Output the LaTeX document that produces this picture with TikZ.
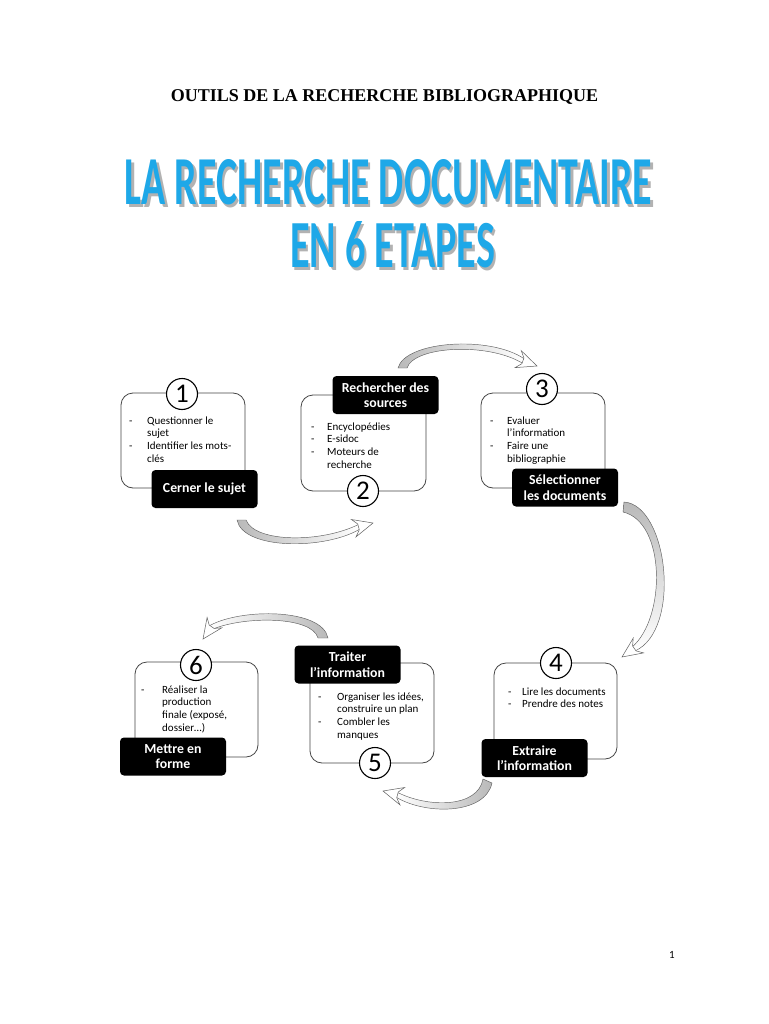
\documentclass[tikz,border=0pt]{standalone}
\usepackage{fontspec}
\setmainfont{Liberation Serif}
\newfontfamily\calib{Carlito}
\usepackage{graphicx}
\definecolor{titleblue}{RGB}{30,168,232}
\definecolor{boxline}{RGB}{70,70,70}
\definecolor{arrline}{RGB}{95,95,95}
\tikzset{
  stepframe/.style={draw=boxline, line width=0.8pt, rounded corners=12pt, inner sep=0pt},
  steplabel/.style={fill=black, rounded corners=4pt, text=white,
    font=\calib\bfseries\fontsize{13.8}{15.5}\selectfont, align=center,
    minimum width=106pt, minimum height=38pt, inner sep=0pt},
  stepnum/.style={circle, draw=black, line width=1.1pt, fill=white,
    minimum size=31pt, inner sep=0pt, font=\calib\fontsize{27}{27}\selectfont},
  steplist/.style={anchor=base west, inner sep=0pt, font=\calib\fontsize{11}{12.7}\selectfont},
  arrowbody/.style={draw=arrline, line width=0.45pt},
  arrowhead/.style={draw=arrline, fill=white, line width=0.5pt, line join=miter},
  openhead/.pic={\draw[arrowhead] (0,0) -- (-20,-9) -- (-15,-3) -- (-15,3) -- (-20,9) -- cycle;},
  titletext/.style={inner sep=0pt, font=\calib\bfseries},
}
\newcommand{\steplines}[2]{\begin{tabular}[t]{@{}p{#1}@{}l@{}}#2\end{tabular}}
\begin{document}
\begin{tikzpicture}[x=1pt,y=-1pt]
\useasboundingbox (0,0) rectangle (768,1024);
\fill[white] (0,0) rectangle (768,1024);

% header
\node[inner sep=0pt, font=\bfseries\fontsize{18}{20}\selectfont] (header) at (384.5,97)
  {OUTILS DE LA RECHERCHE BIBLIOGRAPHIQUE};

% title with shadow
\node[titletext, text=gray!60] (t1s) at (391,185.5) {\resizebox{527pt}{45pt}{LA RECHERCHE DOCUMENTAIRE}};
\node[titletext, text=titleblue] (t1) at (388.5,182.5) {\resizebox{527pt}{45pt}{LA RECHERCHE DOCUMENTAIRE}};
\node[titletext, text=gray!60] (t2s) at (395,248) {\resizebox{205pt}{46pt}{EN 6 ETAPES}};
\node[titletext, text=titleblue] (t2) at (392.5,245) {\resizebox{205pt}{46pt}{EN 6 ETAPES}};

% frames
\node[stepframe, minimum width=124pt, minimum height=95pt] (box1) at (183,440.5) {};
\node[stepframe, minimum width=125pt, minimum height=96pt] (box2) at (363.5,443) {};
\node[stepframe, minimum width=124pt, minimum height=95pt] (box3) at (543,440.5) {};
\node[stepframe, minimum width=123pt, minimum height=96pt] (box4) at (555.5,711) {};
\node[stepframe, minimum width=124pt, minimum height=100pt] (box5) at (372,713) {};
\node[stepframe, minimum width=123pt, minimum height=95pt] (box6) at (196.5,709.5) {};

% lists
\node[steplist] (l1) at (129,424) {\steplines{18pt}{-&Questionner le\\&sujet\\-&Identifier les mots-\\&clés}};
\node[steplist] (l2) at (311,430) {\steplines{16pt}{-&Encyclopédies\\-&E-sidoc\\-&Moteurs de\\&recherche}};
\node[steplist] (l3) at (490,424) {\steplines{17pt}{-&Evaluer\\&l’information\\-&Faire une\\&bibliographie}};
\node[steplist] (l4) at (508,695) {\steplines{14pt}{-&Lire les documents\\-&Prendre des notes}};
\node[steplist] (l5) at (318,700) {\steplines{19pt}{-&Organiser les idées,\\&construire un plan\\-&Combler les\\&manques}};
\node[steplist] (l6) at (141,693) {\steplines{21pt}{-&Réaliser la\\&production\\&finale (exposé,\\&dossier…)}};

% black labels
\node[steplabel] (lab1) at (204.5,489) {Cerner le sujet};
\node[steplabel] (lab2) at (385.5,395) {Rechercher des\\sources};
\node[steplabel] (lab3) at (565,487.5) {Sélectionner\\les documents};
\node[steplabel] (lab4) at (534.5,758) {Extraire\\l’information};
\node[steplabel] (lab5) at (347.5,664.5) {Traiter\\l’information};
\node[steplabel] (lab6) at (173,756.5) {Mettre en\\forme};

% numbers
\node[stepnum] (n1) at (182,394) {1};
\node[stepnum] (n2) at (363,491) {2};
\node[stepnum] (n3) at (542,389) {3};
\node[stepnum] (n4) at (556,663) {4};
\node[stepnum] (n5) at (375,763) {5};
\node[stepnum] (n6) at (196,665) {6};

% curved block arrows
% 2 -> 3 (top)
\coordinate (a1tip) at (537,366);
\draw[arrowbody, left color=gray!55, right color=white]
  (398,368) .. controls (405,341) and (490,335) .. (524.5,359) -- (523,363.5)
  .. controls (488,342) and (414,346) .. (407,368) -- cycle;
\path (a1tip) pic[rotate=-20] {openhead};
% 1 -> 2 (bottom)
\coordinate (a2tip) at (373,523);
\draw[arrowbody, left color=gray!55, right color=white]
  (237,520) .. controls (243,550) and (325,550) .. (360,529) -- (359,524.2)
  .. controls (322,543) and (255,543) .. (246,520) -- cycle;
\path (a2tip) pic[rotate=15] {openhead};
% 3 -> 4 (right)
\coordinate (a3tip) at (622,657);
\draw[arrowbody, top color=gray!55, bottom color=white]
  (624,502) .. controls (668,505) and (682,630) .. (634.9,651) -- (632.1,647)
  .. controls (666,618) and (666,522) .. (623,512) -- cycle;
\path (a3tip) pic[rotate=215] {openhead};
% 5 -> 6 (top left)
\coordinate (a4tip) at (203,639);
\draw[arrowbody, left color=white, right color=gray!55]
  (328,638) .. controls (322,608) and (240,608) .. (209,626) -- (213,629)
  .. controls (245,616) and (312,616) .. (318,638) -- cycle;
\path (a4tip) pic[rotate=235] {openhead};
% 4 -> 5 (bottom)
\coordinate (a5tip) at (383,791);
\draw[arrowbody, left color=white, right color=gray!55]
  (395.9,797) .. controls (425,815) and (485,815) .. (492,783) -- (483,779)
  .. controls (478,808) and (428,808) .. (397.1,792.2) -- cycle;
\path (a5tip) pic[rotate=165] {openhead};

% page number
\node[inner sep=0pt, font=\calib\fontsize{11}{13}\selectfont] (pg) at (672,955) {1};
\end{tikzpicture}
\end{document}
